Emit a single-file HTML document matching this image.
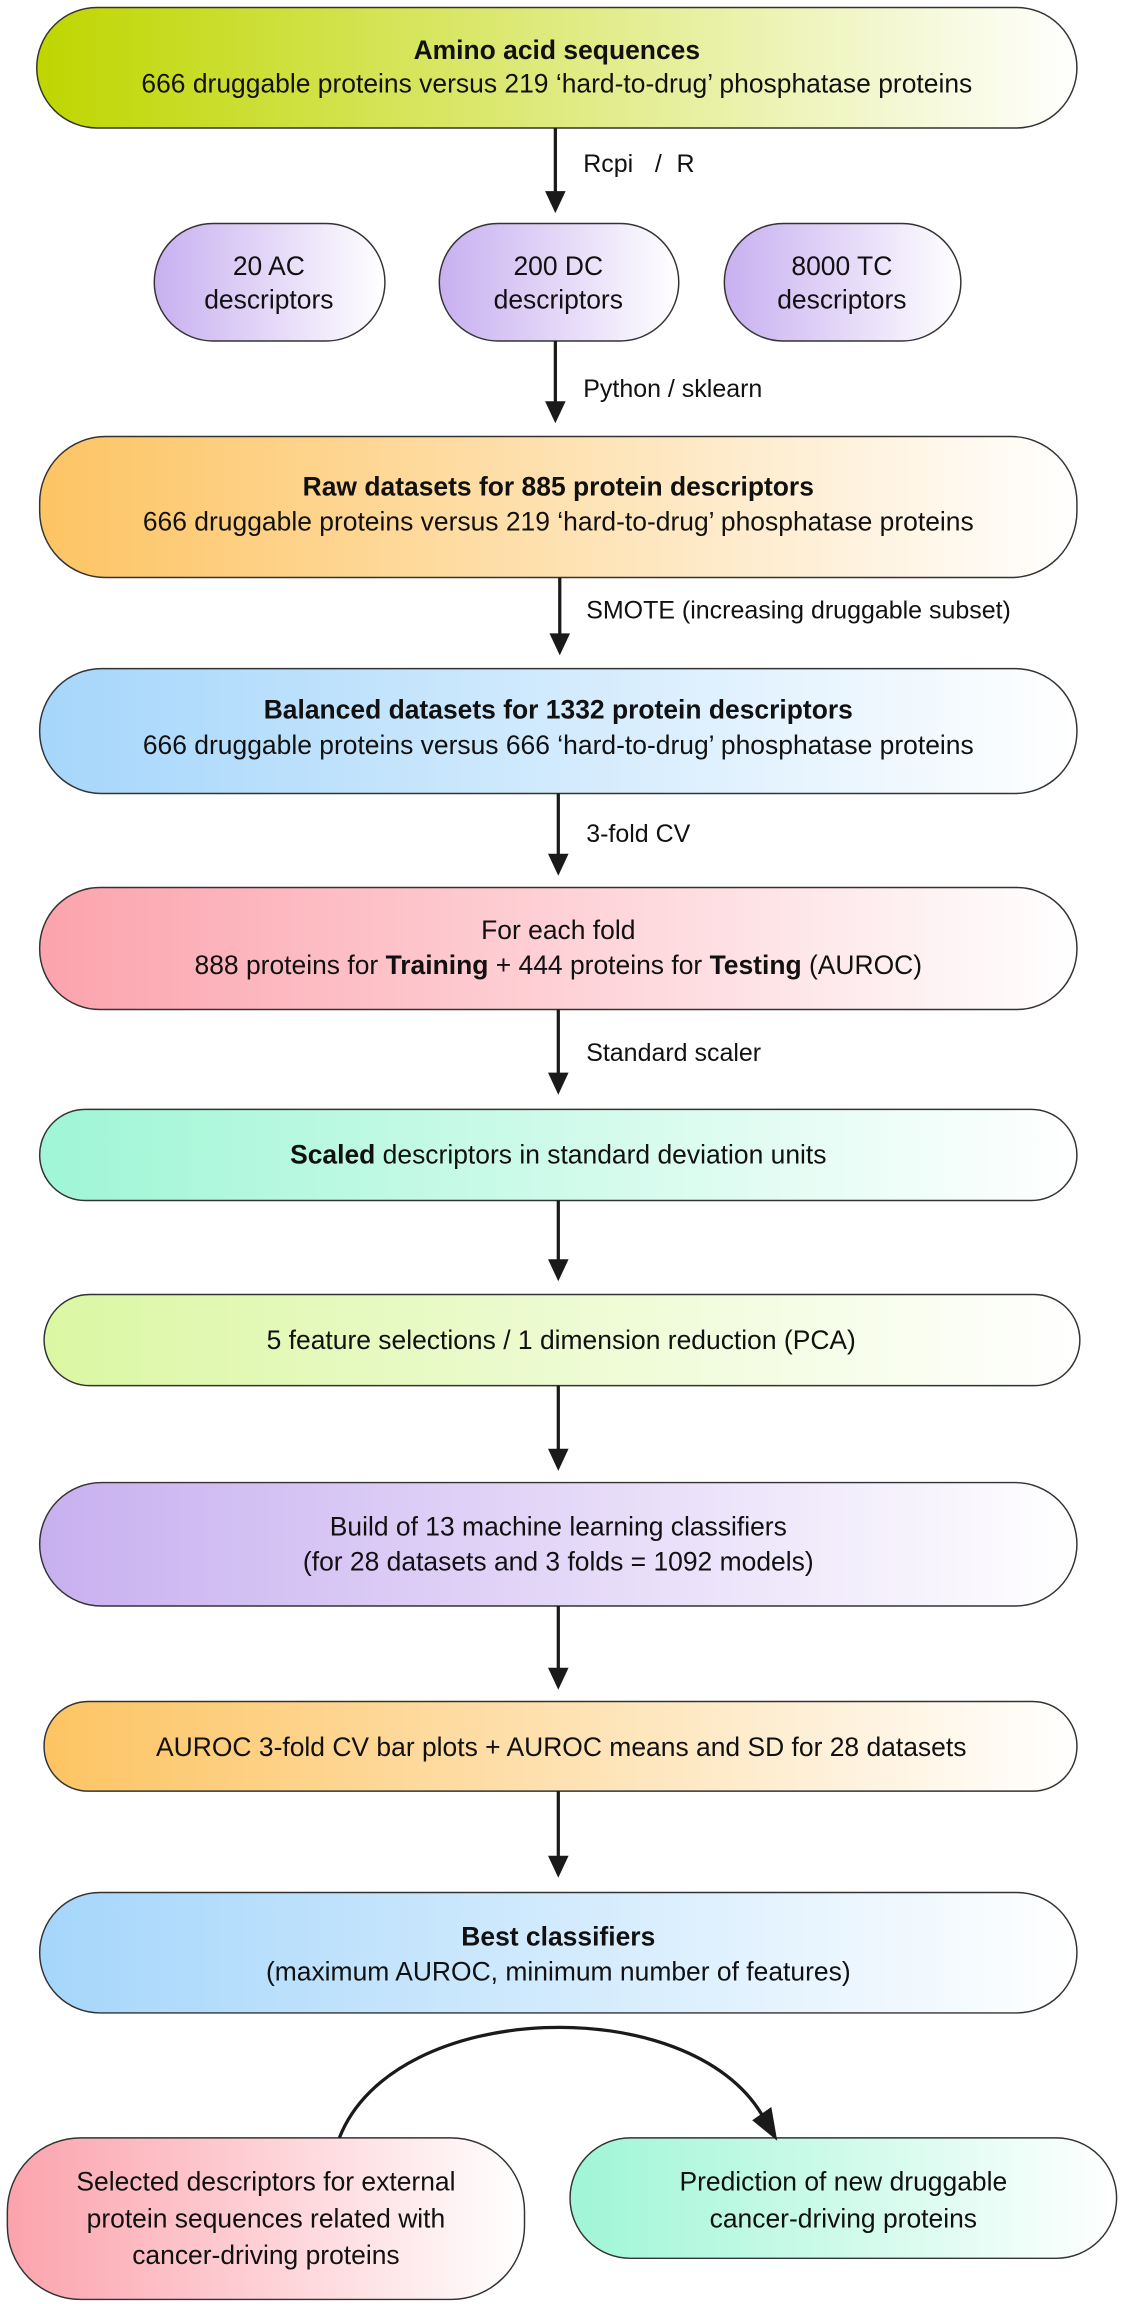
<!DOCTYPE html>
<html><head><meta charset="utf-8"><style>html,body{margin:0;padding:0;background:#fff}svg{display:block}</style></head>
<body>
<svg width="1121" height="2304" viewBox="0 0 763 1568" xmlns="http://www.w3.org/2000/svg" font-family="Liberation Sans, Arial, sans-serif" font-size="18" fill="#111">
<defs>
<linearGradient id="g1"><stop offset="0" stop-color="#bfd600"/><stop offset="1" stop-color="#ffffff"/></linearGradient>
<linearGradient id="gp"><stop offset="0" stop-color="#c8b0f0"/><stop offset="1" stop-color="#ffffff"/></linearGradient>
<linearGradient id="go"><stop offset="0" stop-color="#fdc463"/><stop offset="1" stop-color="#ffffff"/></linearGradient>
<linearGradient id="gb"><stop offset="0" stop-color="#a5d6fb"/><stop offset="1" stop-color="#ffffff"/></linearGradient>
<linearGradient id="gr"><stop offset="0" stop-color="#fca3ad"/><stop offset="1" stop-color="#ffffff"/></linearGradient>
<linearGradient id="gm"><stop offset="0" stop-color="#9ff6d6"/><stop offset="1" stop-color="#ffffff"/></linearGradient>
<linearGradient id="gl"><stop offset="0" stop-color="#dbf7a3"/><stop offset="1" stop-color="#ffffff"/></linearGradient>
</defs>
<g stroke="#333" stroke-width="1">
<rect x="25" y="5" width="708" height="82" rx="41" fill="url(#g1)"/>
<rect x="105" y="152" width="157" height="80" rx="40" fill="url(#gp)"/>
<rect x="299" y="152" width="163" height="80" rx="40" fill="url(#gp)"/>
<rect x="493" y="152" width="161" height="80" rx="40" fill="url(#gp)"/>
<rect x="27" y="297" width="706" height="96" rx="45" fill="url(#go)"/>
<rect x="27" y="455" width="706" height="85" rx="42" fill="url(#gb)"/>
<rect x="27" y="604" width="706" height="83" rx="41" fill="url(#gr)"/>
<rect x="27" y="755" width="706" height="62" rx="31" fill="url(#gm)"/>
<rect x="30" y="881" width="705" height="62" rx="31" fill="url(#gl)"/>
<rect x="27" y="1009" width="706" height="84" rx="42" fill="url(#gp)"/>
<rect x="30" y="1158" width="703" height="61" rx="30" fill="url(#go)"/>
<rect x="27" y="1288" width="706" height="82" rx="41" fill="url(#gb)"/>
<rect x="5" y="1455" width="352" height="110" rx="50" fill="url(#gr)"/>
<rect x="388" y="1455" width="372" height="82" rx="41" fill="url(#gm)"/>
</g>
<g stroke="#1a1a1a" stroke-width="2.2">
<line x1="378" y1="87" x2="378" y2="131"/>
<line x1="378" y1="232" x2="378" y2="275"/>
<line x1="381" y1="393" x2="381" y2="432"/>
<line x1="380" y1="540" x2="380" y2="583"/>
<line x1="380" y1="687" x2="380" y2="732"/>
<line x1="380" y1="817" x2="380" y2="858"/>
<line x1="380" y1="943" x2="380" y2="988"/>
<line x1="380" y1="1093" x2="380" y2="1136"/>
<line x1="380" y1="1219" x2="380" y2="1265"/>
<path d="M231,1455 C268,1360 470,1355 519,1440" fill="none"/>
</g>
<g fill="#1a1a1a">
<polygon points="371,130 385,130 378,145"/>
<polygon points="371,273 385,273 378,288"/>
<polygon points="374,431 388,431 381,446"/>
<polygon points="373,581 387,581 380,596"/>
<polygon points="373,730 387,730 380,745"/>
<polygon points="373,857 387,857 380,872"/>
<polygon points="373,986 387,986 380,1001"/>
<polygon points="373,1135 387,1135 380,1150"/>
<polygon points="373,1263 387,1263 380,1278"/>
<polygon points="525,1434 512,1443 529,1457"/>
</g>
<g text-anchor="middle">
<text x="379" y="40" font-weight="bold">Amino acid sequences</text>
<text x="379" y="63">666 druggable proteins versus 219 ‘hard-to-drug’ phosphatase proteins</text>
<text x="183" y="187">20 AC</text><text x="183" y="210">descriptors</text>
<text x="380" y="187">200 DC</text><text x="380" y="210">descriptors</text>
<text x="573" y="187">8000 TC</text><text x="573" y="210">descriptors</text>
<text x="380" y="337" font-weight="bold">Raw datasets for 885 protein descriptors</text>
<text x="380" y="361">666 druggable proteins versus 219 ‘hard-to-drug’ phosphatase proteins</text>
<text x="380" y="489" font-weight="bold">Balanced datasets for 1332 protein descriptors</text>
<text x="380" y="513">666 druggable proteins versus 666 ‘hard-to-drug’ phosphatase proteins</text>
<text x="380" y="639">For each fold</text>
<text x="380" y="663">888 proteins for <tspan font-weight="bold">Training</tspan> + 444 proteins for <tspan font-weight="bold">Testing</tspan> (AUROC)</text>
<text x="380" y="792"><tspan font-weight="bold">Scaled</tspan> descriptors in standard deviation units</text>
<text x="382" y="918">5 feature selections / 1 dimension reduction (PCA)</text>
<text x="380" y="1045">Build of 13 machine learning classifiers</text>
<text x="380" y="1069">(for 28 datasets and 3 folds = 1092 models)</text>
<text x="382" y="1195">AUROC 3-fold CV bar plots + AUROC means and SD for 28 datasets</text>
<text x="380" y="1324" font-weight="bold">Best classifiers</text>
<text x="380" y="1348">(maximum AUROC, minimum number of features)</text>
<text x="181" y="1491">Selected descriptors for external</text>
<text x="181" y="1516">protein sequences related with</text>
<text x="181" y="1541">cancer-driving proteins</text>
<text x="574" y="1491">Prediction of new druggable</text>
<text x="574" y="1516">cancer-driving proteins</text>
</g>
<g font-size="17">
<text x="397" y="117">Rcpi <tspan dx="10">/</tspan><tspan dx="10">R</tspan></text>
<text x="397" y="270">Python / sklearn</text>
<text x="399" y="421">SMOTE (increasing druggable subset)</text>
<text x="399" y="573">3-fold CV</text>
<text x="399" y="722">Standard scaler</text>
</g>
</svg>
</body></html>
